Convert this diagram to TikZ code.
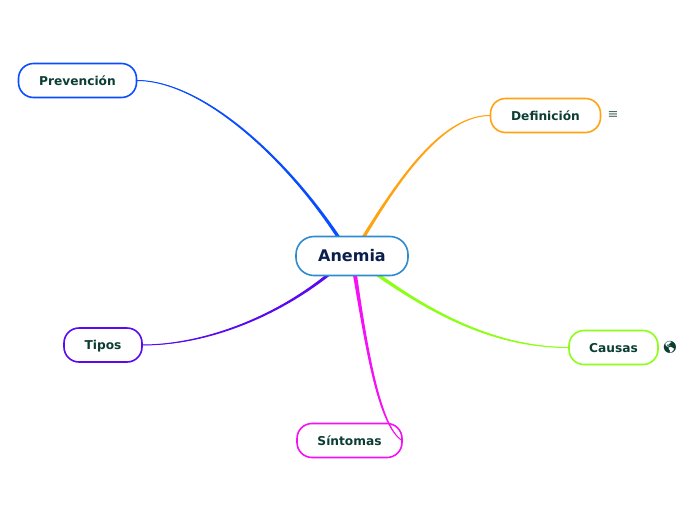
\documentclass[tikz,border=0pt]{standalone}
\usepackage{fontspec}
\usetikzlibrary{calc}
\setmainfont{DejaVu Sans}
\newfontfamily\emojifont{Noto Emoji}
\definecolor{txtgreen}{HTML}{0B3D33}
\definecolor{txtnavy}{HTML}{0A1F4D}
\definecolor{cblue}{HTML}{0A4DFF}
\definecolor{corange}{HTML}{FFA313}
\definecolor{cviolet}{HTML}{5A0AF0}
\definecolor{cmagenta}{HTML}{F510F5}
\definecolor{clime}{HTML}{8CFF14}
\definecolor{croot}{HTML}{2E8BD0}
\tikzset{
  x=1pt,y=-1pt,
  topic/.style={draw,line width=1.6pt,rounded corners=15pt,fill=white,font=\fontsize{12.2}{15}\selectfont\bfseries,text=txtgreen,inner sep=0pt,text height=9pt,text depth=0pt},
  rootnode/.style={draw=croot,line width=1.6pt,rounded corners=18pt,fill=white,font=\fontsize{16}{18}\selectfont\bfseries,text=txtnavy,minimum width=112pt,minimum height=39pt,inner sep=0pt},
  link/.style={line width=1pt},
  icon/.style={inner sep=0pt}
}
\newcommand{\taper}[6]{% colour, start, c1, c2, end, half-width vector
  \fill[#1] ($(#2)+(#6)$) .. controls ($#3+(#6)$) and ($#4+(#6)$) .. (#5) .. controls #4 and #3 .. ($(#2)-(#6)$) -- cycle;
}
\begin{document}
\begin{tikzpicture}
\useasboundingbox (0,0) rectangle (696,520);
\fill[white] (0,0) rectangle (696,520);
\coordinate (sP) at (339,238);
\coordinate (sD) at (363,238);
\coordinate (sT) at (328,275);
\coordinate (sS) at (355,275);
\coordinate (sC) at (378,275);
\coordinate (eP) at (137,80.5);
\coordinate (eD) at (490,115.5);
\coordinate (eT) at (142,345);
\coordinate (eS) at (402,440.5);
\coordinate (eC) at (569,347.5);
\draw[cblue,link] (sP) .. controls (283,155) and (200,80.5) .. (eP);
\taper{cblue}{sP}{(283,155)}{(200,80.5)}{eP}{1.5,-.8}
\draw[corange,link] (sD) .. controls (403,170) and (445,115.5) .. (eD);
\taper{corange}{sD}{(403,170)}{(445,115.5)}{eD}{1.5,.8}
\draw[cviolet,link] (sT) .. controls (270,320) and (200,345) .. (eT);
\taper{cviolet}{sT}{(270,320)}{(200,345)}{eT}{.8,1.3}
\draw[cmagenta,link] (sS) .. controls (365,345) and (378,425) .. (eS);
\taper{cmagenta}{sS}{(365,345)}{(378,425)}{eS}{2,-.2}
\draw[clime,link] (sC) .. controls (440,320) and (500,347.5) .. (eC);
\taper{clime}{sC}{(440,320)}{(500,347.5)}{eC}{1,-1.5}
\node[rootnode] (root) at (352,256) {Anemia};
\node[topic,draw=cblue,minimum width=118pt,minimum height=34pt] (prev) at (77.5,80.5) {Prevención};
\node[topic,draw=corange,minimum width=110pt,minimum height=34pt] (defi) at (545.5,115.5) {Definición};
\node[topic,draw=cviolet,minimum width=78pt,minimum height=34pt] (tipos) at (103,345) {Tipos};
\node[topic,draw=cmagenta,fill=none,minimum width=105pt,minimum height=34pt] (sint) at (349.5,440.5) {Síntomas};
\node[topic,draw=clime,minimum width=89pt,minimum height=34pt] (caus) at (613.5,347.5) {Causas};
\node[icon,text=txtgreen!75,font=\fontsize{13}{13}\selectfont] (ic1) at (613,115.5) {≡};
\node[icon,text=txtgreen,font=\fontsize{12}{12}\selectfont\emojifont] (ic2) at (670,347) {^^^^^^01f30e};
\end{tikzpicture}
\end{document}
